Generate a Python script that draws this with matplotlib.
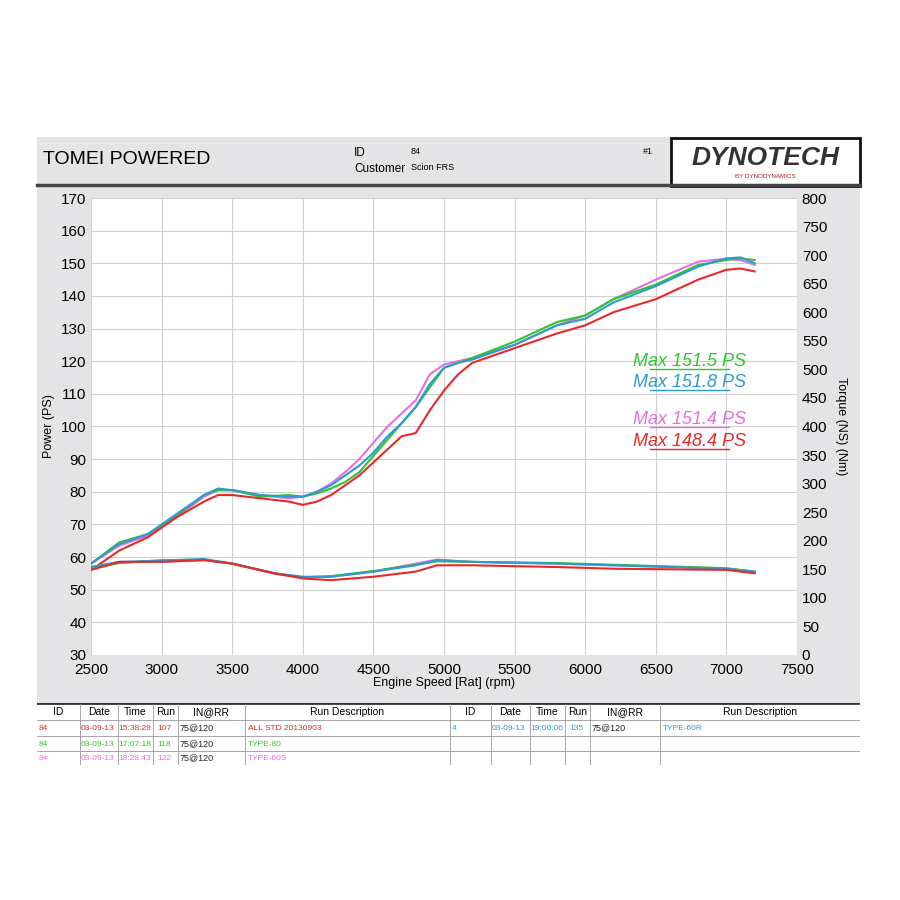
import matplotlib
matplotlib.use("Agg")
import matplotlib.pyplot as plt
from matplotlib.patches import Rectangle

plt.rcParams["font.family"] = ["Liberation Sans", "DejaVu Sans"]

# power curves (PS) read from the dyno sheet
rpm_pts = [2500, 2700, 2900, 3100, 3300, 3400, 3500, 3700, 3900, 4000, 4100, 4200, 4300, 4400, 4500,
           4600, 4700, 4800, 4900, 5000, 5100, 5200, 5500, 5800, 6000, 6200, 6500, 6800, 7000, 7100, 7200]
power_blue = [58, 64, 67, 73, 79, 81, 80.5, 79, 78.5, 78.5, 80, 82, 85, 88, 92, 97, 101, 106, 113, 118, 119.5, 120.5,
              125, 131, 133, 138, 143, 149, 151.5, 151.8, 150]
power_green = [58, 64.5, 67, 72.5, 79, 80.5, 80.5, 78.5, 79, 78.5, 79.5, 81, 83, 86, 91, 96, 101, 106, 112, 118, 119.5, 121,
               126, 132, 134, 139, 143.5, 149.5, 151, 151.5, 151]
power_pink = [58, 63.5, 66.5, 72, 78.5, 80.5, 80.5, 79, 78, 78.5, 80, 82.5, 86, 90, 95, 100, 104, 108, 116, 119, 120, 121,
              125, 131, 134, 139, 145, 150.5, 151.4, 151, 149.5]
power_red = [56, 62, 66, 72, 77, 79, 79, 78, 77, 76, 77, 79, 82, 85, 89, 93, 97, 98, 105, 111, 116, 119.5,
             124, 128.5, 131, 135, 139, 145, 148, 148.4, 147.5]

torque_rpm = [2500, 2700, 3000, 3300, 3500, 3800, 4000, 4200, 4500, 4800, 4950, 5200, 5800, 6200, 7000, 7200]
# torque in Nm
torque_blue = [154, 163, 165, 168, 160, 143, 137, 137, 146, 157, 166, 163, 160, 157, 151, 146]
torque_green = [151, 161, 166, 167, 160, 143, 136, 138, 147, 158, 164, 163, 161, 158, 152, 146]
torque_pink = [154, 162, 164, 166, 160, 142, 136, 137, 146, 160, 167, 163, 160, 157, 151, 146]
torque_red = [149, 163, 163, 166, 160, 143, 134, 131, 137, 146, 157, 157, 154, 151, 149, 143]

colors = {"red": "#e8282a", "green": "#2ec52e", "pink": "#e76ee0", "blue": "#2e9ad0"}

fig = plt.figure(figsize=(9, 9), dpi=100)
fig.patch.set_facecolor("white")

# sheet background and header
bg = fig.add_axes([0, 0, 1, 1], zorder=-5)
bg.set_xlim(0, 900)
bg.set_ylim(900, 0)
bg.axis("off")
bg.add_patch(Rectangle((37, 137), 823, 628, facecolor="#e4e4e6", edgecolor="none"))
bg.plot([37, 860], [185, 185], color="#444444", lw=2.5)
bg.add_patch(Rectangle((671, 138), 189, 48, facecolor="white", edgecolor="#111111", lw=2))
bg.text(43, 160, "TOMEI POWERED", fontsize=14, va="center")
bg.text(354, 153, "ID", fontsize=8.5, va="center")
bg.text(354, 169, "Customer", fontsize=8.5, va="center")
bg.text(411, 152, "84", fontsize=6.5, va="center")
bg.text(411, 168, "Scion FRS", fontsize=6.5, va="center")
bg.text(643, 152, "#1", fontsize=6.5, va="center")
bg.text(765, 158, "DYNOTECH", fontsize=19, fontweight="bold", style="italic",
        color="#333333", ha="center", va="center")
bg.text(765, 176, "BY DYNODYNAMICS", fontsize=4.5, color="#aa2222", ha="center", va="center")

ax = fig.add_axes([91 / 900, 1 - 655 / 900, 706 / 900, 457 / 900])
ax.set_facecolor("white")
ax.set_xlim(2500, 7500)
ax.set_ylim(30, 170)
ax.set_xticks(range(2500, 7501, 500))
ax.set_yticks(range(30, 171, 10))
ax.grid(True, color="#d0d0d0", lw=0.8)
ax.tick_params(labelsize=11, length=0)
ax.tick_params(axis="x", pad=6)
ax.set_xlabel("Engine Speed [Rat] (rpm)", fontsize=9, labelpad=0)
ax.set_ylabel("Power (PS)", fontsize=9)
for s in ax.spines.values():
    s.set_visible(False)

ax2 = ax.twinx()
ax2.set_ylim(0, 800)
ax2.set_yticks(range(0, 801, 50))
ax2.tick_params(labelsize=11, length=0)
ax2.set_ylabel("Torque (NS) (Nm)", fontsize=9, rotation=270, labelpad=14)
for s in ax2.spines.values():
    s.set_visible(False)

for name, p, t in [("pink", power_pink, torque_pink), ("green", power_green, torque_green),
                   ("blue", power_blue, torque_blue), ("red", power_red, torque_red)]:
    ax.plot(rpm_pts, p, color=colors[name], lw=1.5)
    ax2.plot(torque_rpm, t, color=colors[name], lw=1.5)

labels = [("green", "Max 151.5 PS", 120), ("blue", "Max 151.8 PS", 113.5),
          ("pink", "Max 151.4 PS", 102), ("red", "Max 148.4 PS", 95.5)]
for name, txt, y in labels:
    ax.text(6740, y, txt, color=colors[name], fontsize=13, style="italic", ha="center", va="center")
    ax.plot([6460, 7020], [y - 2.3, y - 2.3], color=colors[name], lw=1)

# run table
table_ax = fig.add_axes([37 / 900, 1 - 765 / 900, 823 / 900, 62 / 900])
table_ax.set_xlim(37, 860)
table_ax.set_ylim(765, 703)
table_ax.axis("off")
table_ax.add_patch(Rectangle((37, 703), 823, 62, facecolor="white", edgecolor="none"))
table_ax.plot([37, 860], [703, 703], color="#333333", lw=2)
headers = ["ID", "Date", "Time", "Run", "IN@RR", "Run Description"]
col_left = [37, 80, 118, 153, 178, 245]
col_right = [450, 491, 530, 565, 590, 660]
col_ends = [80, 118, 153, 178, 245, 450]
col_ends_r = [491, 530, 565, 590, 660, 860]
for lefts, ends in [(col_left, col_ends), (col_right, col_ends_r)]:
    for h, l, e in zip(headers, lefts, ends):
        table_ax.text((l + e) / 2, 712, h, fontsize=7.5, ha="center", va="center")
    for l in lefts[1:] + [ends[-1]]:
        table_ax.plot([l, l], [704, 765], color="#999999", lw=0.6)
for y in [720, 736, 751]:
    table_ax.plot([37, 860], [y, y], color="#999999", lw=0.6)

ids = ["84", "84", "84", "4"]
dates = ["03-09-13", "03-09-13", "03-09-13", "03-09-13"]
times = ["15:38:29", "17:07:18", "18:28:43", "19:00:06"]
runs = ["107", "118", "122", "135"]
desc = ["ALL STD 20130903", "TYPE-80", "TYPE-60S", "TYPE-60R"]
row_colors = ["red", "green", "pink", "blue"]
row_y = [728, 744, 758, 728]
for i in range(4):
    c = colors[row_colors[i]]
    lefts = col_right if i == 3 else col_left
    y = row_y[i]
    table_ax.text(lefts[0] + 2, y, ids[i], color=c, fontsize=6, va="center")
    table_ax.text(lefts[1] + 1, y, dates[i], color=c, fontsize=6, va="center")
    table_ax.text(lefts[2], y, times[i], color=c, fontsize=6, va="center")
    table_ax.text(lefts[3] + 4, y, runs[i], color=c, fontsize=6, va="center")
    table_ax.text(lefts[4] + 2, y, "75@120", color="#222222", fontsize=6.5, va="center")
    table_ax.text(lefts[5] + 3, y, desc[i], color=c, fontsize=6, va="center")

fig.savefig("out.png", dpi=100)
